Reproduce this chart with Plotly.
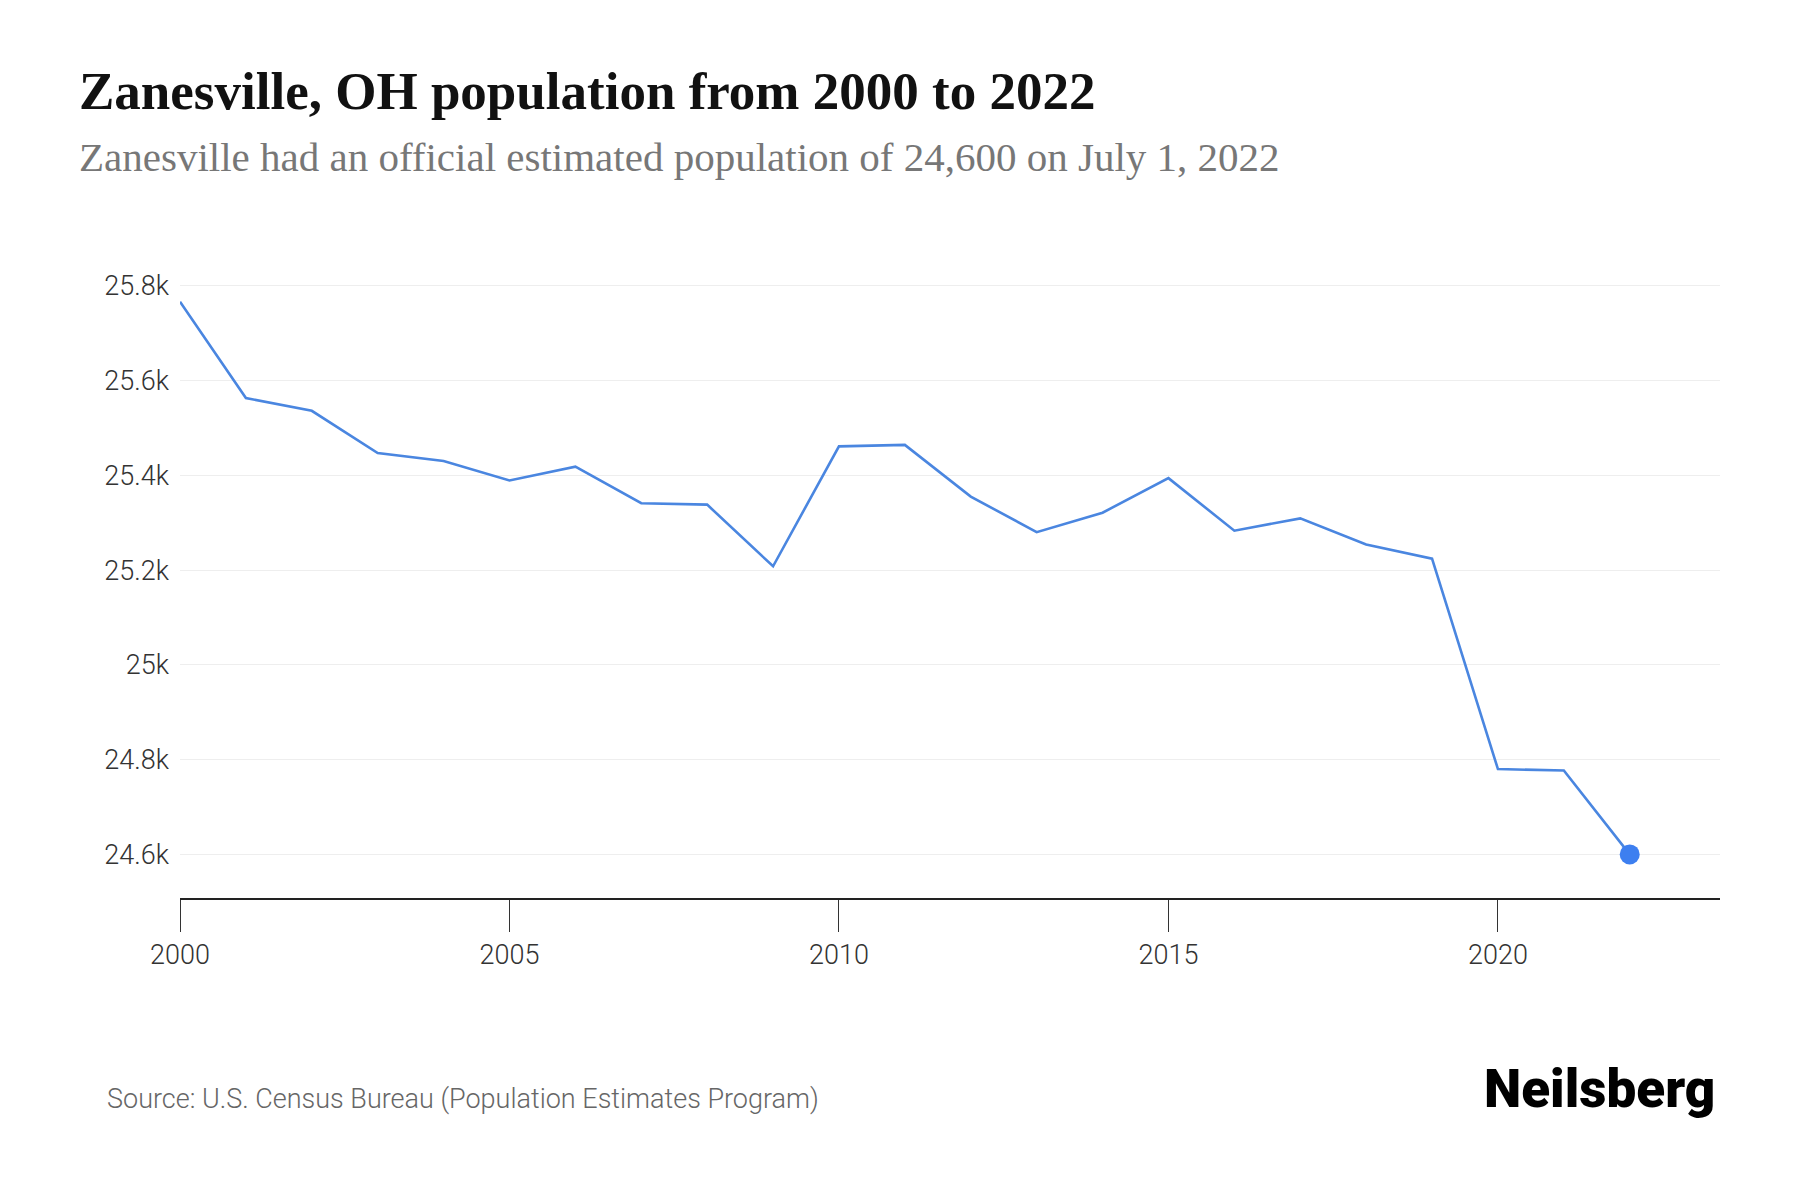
import plotly.graph_objects as go

years = list(range(2000, 2023))
population = [25766, 25563, 25536, 25447, 25430, 25389, 25418, 25341, 25338, 25208,
              25461, 25464, 25355, 25280, 25321, 25394, 25283, 25309, 25254, 25224,
              24780, 24777, 24600]
y_ticks = [24600, 24800, 25000, 25200, 25400, 25600, 25800]
y_tick_labels = ["24.6k", "24.8k", "25k", "25.2k", "25.4k", "25.6k", "25.8k"]
x_ticks = [2000, 2005, 2010, 2015, 2020]

title = "Zanesville, OH population from 2000 to 2022"
subtitle = "Zanesville had an official estimated population of 24,600 on July 1, 2022"
source = "Source: U.S. Census Bureau (Population Estimates Program)"
brand = "Neilsberg"

W, H = 1800, 1200
L, R, T, B = 172, 88, 254, 310


def px(x):
    return (x - L) / (W - L - R)


def py(y):
    return (H - B - y) / (H - T - B)


fig = go.Figure()
fig.add_trace(go.Scatter(
    x=years, y=population, mode="lines",
    line=dict(color="#4a86e0", width=2.6),
    hoverinfo="skip", showlegend=False,
))
fig.add_trace(go.Scatter(
    x=[years[-1]], y=[population[-1]], mode="markers",
    marker=dict(color="#3d7ff0", size=20),
    hoverinfo="skip", showlegend=False,
))

fig.update_layout(
    width=W, height=H,
    margin=dict(l=L, r=R, t=T, b=B),
    paper_bgcolor="white", plot_bgcolor="white",
    showlegend=False,
    xaxis=dict(
        range=[2000, 2023.37],
        tickvals=x_ticks,
        ticktext=[str(v) for v in x_ticks],
        showgrid=False, zeroline=False,
        showline=True, linecolor="#222222", linewidth=2,
        ticks="outside", ticklen=32, tickwidth=1.2, tickcolor="#333333",
        tickfont=dict(family="Roboto", size=27, color="#333333", weight=300),
    ),
    yaxis=dict(
        range=[24508, 25850],
        tickvals=y_ticks,
        ticktext=y_tick_labels,
        showgrid=True, gridcolor="#eeeeee", gridwidth=1,
        zeroline=False, showline=False, ticks="",
        ticklabelstandoff=10,
        tickfont=dict(family="Roboto", size=27, color="#333333", weight=300),
    ),
    annotations=[
        dict(text=title, x=px(69), y=py(83), xref="paper", yref="paper",
             xanchor="left", yanchor="middle", showarrow=False,
             font=dict(family="Liberation Serif", size=53, color="#111111", weight="bold")),
        dict(text=subtitle, x=px(69), y=py(149), xref="paper", yref="paper",
             xanchor="left", yanchor="middle", showarrow=False,
             font=dict(family="Liberation Serif", size=41, color="#777777")),
        dict(text=source, x=px(97), y=py(1091), xref="paper", yref="paper",
             xanchor="left", yanchor="middle", showarrow=False,
             font=dict(family="Roboto", size=27, color="#666666", weight=300)),
        dict(text=brand, x=px(1709), y=py(1081), xref="paper", yref="paper",
             xanchor="right", yanchor="middle", showarrow=False,
             font=dict(family="Roboto", size=53, color="#000000", weight=900)),
    ],
)

fig.write_html("out.html")
